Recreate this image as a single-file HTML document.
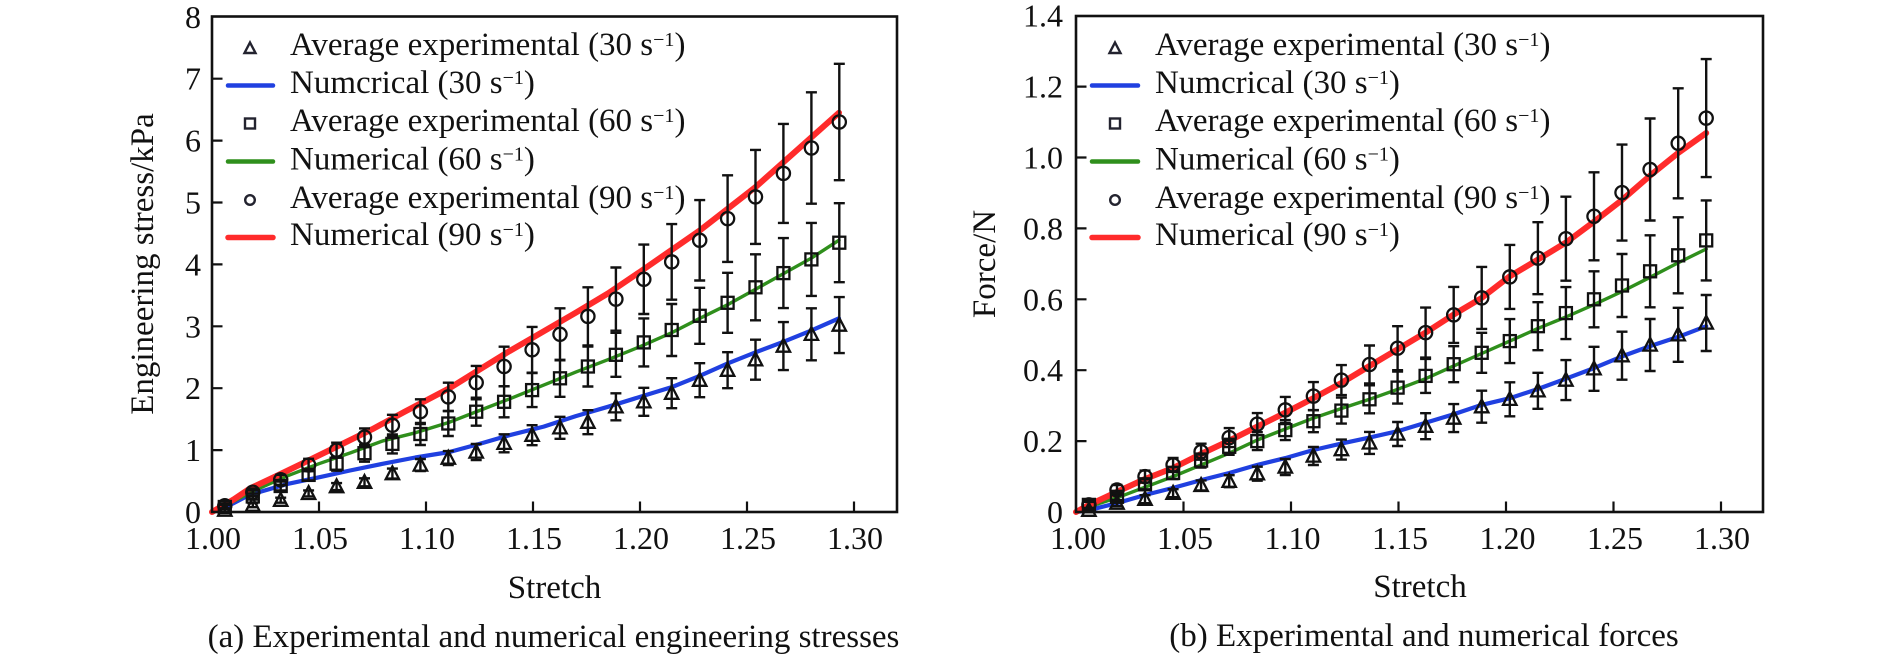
<!DOCTYPE html>
<html><head><meta charset="utf-8"><style>
html,body{margin:0;padding:0;background:#fff;}
svg{display:block;}
text{font-family:"Liberation Serif","Times New Roman",serif;fill:#111;}
</style></head><body>
<svg width="1890" height="656" viewBox="0 0 1890 656" xmlns="http://www.w3.org/2000/svg">
<defs>
<path id="tri" d="M0,-7.2 L6.7,5.6 L-6.7,5.6 Z" fill="none" stroke="#111" stroke-width="2.3"/>
<rect id="sq" x="-6" y="-6" width="12" height="12" fill="none" stroke="#111" stroke-width="2.3"/>
<circle id="ci" r="6.6" fill="none" stroke="#111" stroke-width="2.3"/>
<path id="ltri" d="M0,-6 L5.5,4.5 L-5.5,4.5 Z" fill="none" stroke="#23232f" stroke-width="2.4"/>
<rect id="lsq" x="-5" y="-5" width="10" height="10" fill="none" stroke="#23232f" stroke-width="2.4"/>
<circle id="lci" r="4.8" fill="none" stroke="#23232f" stroke-width="2.4"/>
</defs>

<!-- ================= LEFT PLOT ================= -->
<g fill="none" stroke-linejoin="round" stroke-linecap="round">
<polyline stroke="#2040e0" stroke-width="4.2" points="212,512 233.4,503.3 249.9,494.7 286.9,484.1 319.0,477.3 350.0,470.5 383.2,463.7 415.3,457.5 449.5,452.0 479.5,443.9 509.5,435.2 543.7,426.6 575.8,416.1 607.9,406.8 640.0,396.9 672.1,387.0 699.9,375.8 727.7,363.4 755.6,352.3 783.4,341.8 811.2,330.6 839.0,318.3"/>
<polyline stroke="#2f8f1c" stroke-width="3.4" points="212,512 233.4,501.5 254.8,490.3 286.9,476.1 319.0,463.7 351.1,452.6 383.2,440.8 415.3,432.8 449.5,422.2 479.5,410.5 511.6,398.1 543.7,385.1 575.8,372.1 607.9,359.7 640.0,346.7 672.1,332.5 699.9,318.3 727.7,304.6 755.6,289.2 783.4,273.7 811.2,258.2 839.0,240.2"/>
<polyline stroke="#ff2b2b" stroke-width="6" points="212,512 233.4,499.6 249.9,488.5 276.2,476.1 308.3,460.6 336.1,447.0 372.5,429.1 404.6,411.7 449.5,388.2 479.5,369.6 509.5,351.1 543.7,331.3 575.8,312.7 607.9,293.5 640.0,271.8 672.1,249.6 699.9,230.4 727.7,208.7 755.6,187.0 783.4,162.3 811.2,137.5 839.0,112.7"/>
</g>

<!-- error bars left -->
<g fill="none" stroke="#111" stroke-width="2.4">
<path d="M219.3,503.3h11m-5.5,0V508.3m-5.5,0h11 M247.3,488.5h11m-5.5,0V495.9m-5.5,0h11 M275.2,474.8h11m-5.5,0V484.8m-5.5,0h11 M303.1,458.8h11m-5.5,0V471.2m-5.5,0h11 M331.1,442.7h11m-5.5,0V457.5m-5.5,0h11 M359.0,428.4h11m-5.5,0V445.8m-5.5,0h11 M386.9,414.8h11m-5.5,0V435.8m-5.5,0h11 M414.9,399.3h11m-5.5,0V424.1m-5.5,0h11 M442.8,382.7h11m-5.5,0V411.1m-5.5,0h11 M470.7,365.9h11m-5.5,0V399.3m-5.5,0h11 M498.6,346.7h11m-5.5,0V386.3m-5.5,0h11 M526.6,326.9h11m-5.5,0V372.7m-5.5,0h11 M554.5,308.3h11m-5.5,0V360.3m-5.5,0h11 M582.4,287.3h11m-5.5,0V345.5m-5.5,0h11 M610.4,267.5h11m-5.5,0V330.7m-5.5,0h11 M638.3,244.6h11m-5.5,0V314.0m-5.5,0h11 M666.2,224.1h11m-5.5,0V299.7m-5.5,0h11 M694.2,200.1h11m-5.5,0V280.5m-5.5,0h11 M722.1,175.3h11m-5.5,0V261.9m-5.5,0h11 M750.0,149.9h11m-5.5,0V243.9m-5.5,0h11 M777.9,123.9h11m-5.5,0V222.9m-5.5,0h11 M805.9,92.3h11m-5.5,0V203.7m-5.5,0h11 M833.8,63.8h11m-5.5,0V180.2m-5.5,0h11"/>
<path d="M219.3,505.0h11m-5.5,0V509.0m-5.5,0h11 M247.3,493.5h11m-5.5,0V499.5m-5.5,0h11 M275.2,481.5h11m-5.5,0V490.5m-5.5,0h11 M303.1,469.4h11m-5.5,0V480.4m-5.5,0h11 M331.1,456.7h11m-5.5,0V470.7m-5.5,0h11 M359.0,444.7h11m-5.5,0V461.7m-5.5,0h11 M386.9,434.4h11m-5.5,0V453.4m-5.5,0h11 M414.9,423.0h11m-5.5,0V445.0m-5.5,0h11 M442.8,411.0h11m-5.5,0V436.0m-5.5,0h11 M470.7,397.7h11m-5.5,0V425.7m-5.5,0h11 M498.6,386.3h11m-5.5,0V417.3m-5.5,0h11 M526.6,373.1h11m-5.5,0V407.1m-5.5,0h11 M554.5,359.8h11m-5.5,0V396.8m-5.5,0h11 M582.4,346.5h11m-5.5,0V386.5m-5.5,0h11 M610.4,332.8h11m-5.5,0V376.8m-5.5,0h11 M638.3,318.4h11m-5.5,0V366.4m-5.5,0h11 M666.2,304.0h11m-5.5,0V356.0m-5.5,0h11 M694.2,287.8h11m-5.5,0V343.8m-5.5,0h11 M722.1,272.8h11m-5.5,0V332.8m-5.5,0h11 M750.0,254.3h11m-5.5,0V320.3m-5.5,0h11 M777.9,238.1h11m-5.5,0V308.1m-5.5,0h11 M805.9,222.9h11m-5.5,0V295.9m-5.5,0h11 M833.8,203.2h11m-5.5,0V282.2m-5.5,0h11"/>
<path d="M219.3,508.6h11m-5.5,0V511.6m-5.5,0h11 M247.3,503.2h11m-5.5,0V507.2m-5.5,0h11 M275.2,497.7h11m-5.5,0V502.7m-5.5,0h11 M303.1,490.4h11m-5.5,0V496.4m-5.5,0h11 M331.1,483.1h11m-5.5,0V490.1m-5.5,0h11 M359.0,478.3h11m-5.5,0V486.3m-5.5,0h11 M386.9,468.6h11m-5.5,0V478.6m-5.5,0h11 M414.9,459.0h11m-5.5,0V471.0m-5.5,0h11 M442.8,451.1h11m-5.5,0V465.1m-5.5,0h11 M470.7,444.0h11m-5.5,0V460.0m-5.5,0h11 M498.6,434.3h11m-5.5,0V452.3m-5.5,0h11 M526.6,425.2h11m-5.5,0V445.2m-5.5,0h11 M554.5,416.8h11m-5.5,0V438.8m-5.5,0h11 M582.4,410.2h11m-5.5,0V434.2m-5.5,0h11 M610.4,393.3h11m-5.5,0V420.3m-5.5,0h11 M638.3,387.8h11m-5.5,0V415.8m-5.5,0h11 M666.2,378.2h11m-5.5,0V408.2m-5.5,0h11 M694.2,363.2h11m-5.5,0V397.2m-5.5,0h11 M722.1,352.2h11m-5.5,0V388.2m-5.5,0h11 M750.0,339.7h11m-5.5,0V379.7m-5.5,0h11 M777.9,322.1h11m-5.5,0V370.1m-5.5,0h11 M805.9,308.3h11m-5.5,0V360.3m-5.5,0h11 M833.8,297.1h11m-5.5,0V353.1m-5.5,0h11"/>
</g>

<g>
<use href="#ci" x="224.8" y="505.8"/><use href="#ci" x="252.8" y="492.2"/><use href="#ci" x="280.7" y="479.8"/><use href="#ci" x="308.6" y="465.0"/><use href="#ci" x="336.6" y="450.1"/><use href="#ci" x="364.5" y="437.1"/><use href="#ci" x="392.4" y="425.3"/><use href="#ci" x="420.4" y="411.7"/><use href="#ci" x="448.3" y="396.9"/><use href="#ci" x="476.2" y="382.6"/><use href="#ci" x="504.1" y="366.5"/><use href="#ci" x="532.1" y="349.8"/><use href="#ci" x="560.0" y="334.3"/><use href="#ci" x="587.9" y="316.4"/><use href="#ci" x="615.9" y="299.1"/><use href="#ci" x="643.8" y="279.3"/><use href="#ci" x="671.7" y="261.9"/><use href="#ci" x="699.7" y="240.3"/><use href="#ci" x="727.6" y="218.6"/><use href="#ci" x="755.5" y="196.9"/><use href="#ci" x="783.4" y="173.4"/><use href="#ci" x="811.4" y="148.0"/><use href="#ci" x="839.3" y="122.0"/>
<use href="#sq" x="224.8" y="507.0"/><use href="#sq" x="252.8" y="496.5"/><use href="#sq" x="280.7" y="486.0"/><use href="#sq" x="308.6" y="474.9"/><use href="#sq" x="336.6" y="463.7"/><use href="#sq" x="364.5" y="453.2"/><use href="#sq" x="392.4" y="443.9"/><use href="#sq" x="420.4" y="434.0"/><use href="#sq" x="448.3" y="423.5"/><use href="#sq" x="476.2" y="411.7"/><use href="#sq" x="504.1" y="401.8"/><use href="#sq" x="532.1" y="390.1"/><use href="#sq" x="560.0" y="378.3"/><use href="#sq" x="587.9" y="366.5"/><use href="#sq" x="615.9" y="354.8"/><use href="#sq" x="643.8" y="342.4"/><use href="#sq" x="671.7" y="330.0"/><use href="#sq" x="699.7" y="315.8"/><use href="#sq" x="727.6" y="302.8"/><use href="#sq" x="755.5" y="287.3"/><use href="#sq" x="783.4" y="273.1"/><use href="#sq" x="811.4" y="259.4"/><use href="#sq" x="839.3" y="242.7"/>
<use href="#tri" x="224.8" y="510.1"/><use href="#tri" x="252.8" y="505.2"/><use href="#tri" x="280.7" y="500.2"/><use href="#tri" x="308.6" y="493.4"/><use href="#tri" x="336.6" y="486.6"/><use href="#tri" x="364.5" y="482.3"/><use href="#tri" x="392.4" y="473.6"/><use href="#tri" x="420.4" y="465.0"/><use href="#tri" x="448.3" y="458.1"/><use href="#tri" x="476.2" y="452.0"/><use href="#tri" x="504.1" y="443.3"/><use href="#tri" x="532.1" y="435.2"/><use href="#tri" x="560.0" y="427.8"/><use href="#tri" x="587.9" y="422.2"/><use href="#tri" x="615.9" y="406.8"/><use href="#tri" x="643.8" y="401.8"/><use href="#tri" x="671.7" y="393.2"/><use href="#tri" x="699.7" y="380.2"/><use href="#tri" x="727.6" y="370.2"/><use href="#tri" x="755.5" y="359.7"/><use href="#tri" x="783.4" y="346.1"/><use href="#tri" x="811.4" y="334.3"/><use href="#tri" x="839.3" y="325.1"/>
</g>

<rect x="212" y="16.5" width="685" height="495.5" fill="none" stroke="#111" stroke-width="2.6"/>
<path fill="none" stroke="#111" stroke-width="2.2" d="M212,450.1h10.5M212,388.2h10.5M212,326.3h10.5M212,264.4h10.5M212,202.5h10.5M212,140.6h10.5M212,78.7h10.5 M319,512v-10.5M426,512v-10.5M533,512v-10.5M640,512v-10.5M747,512v-10.5M854,512v-10.5"/>

<g font-size="32" text-anchor="end">
<text x="201" y="523">0</text><text x="201" y="461.1">1</text><text x="201" y="399.2">2</text><text x="201" y="337.3">3</text><text x="201" y="275.4">4</text><text x="201" y="213.5">5</text><text x="201" y="151.6">6</text><text x="201" y="89.7">7</text><text x="201" y="27.8">8</text>
</g>
<g font-size="32" text-anchor="middle">
<text x="213" y="549">1.00</text><text x="320" y="549">1.05</text><text x="427" y="549">1.10</text><text x="534" y="549">1.15</text><text x="641" y="549">1.20</text><text x="748" y="549">1.25</text><text x="855" y="549">1.30</text>
</g>
<text x="554.5" y="598" font-size="33" text-anchor="middle">Stretch</text>
<text x="553.5" y="647" font-size="33" text-anchor="middle">(a) Experimental and numerical engineering stresses</text>
<text transform="translate(153,264) rotate(-90)" font-size="33" text-anchor="middle">Engineering stress/kPa</text>

<use href="#ltri" x="250" y="48.5"/>
<line x1="228" y1="85.5" x2="273" y2="85.5" stroke="#2040e0" stroke-width="4.5" stroke-linecap="round"/>
<use href="#lsq" x="250" y="123.5"/>
<line x1="228" y1="161.5" x2="273" y2="161.5" stroke="#2f8f1c" stroke-width="4.5" stroke-linecap="round"/>
<use href="#lci" x="250" y="200"/>
<line x1="228" y1="237.5" x2="273" y2="237.5" stroke="#ff2b2b" stroke-width="5.5" stroke-linecap="round"/>
<g font-size="33">
<text x="290" y="55">Average experimental (30 s<tspan dy="-9" font-size="20">−1</tspan><tspan dy="9">)</tspan></text>
<text x="290" y="93">Numcrical (30 s<tspan dy="-9" font-size="20">−1</tspan><tspan dy="9">)</tspan></text>
<text x="290" y="131">Average experimental (60 s<tspan dy="-9" font-size="20">−1</tspan><tspan dy="9">)</tspan></text>
<text x="290" y="169.5">Numerical (60 s<tspan dy="-9" font-size="20">−1</tspan><tspan dy="9">)</tspan></text>
<text x="290" y="208">Average experimental (90 s<tspan dy="-9" font-size="20">−1</tspan><tspan dy="9">)</tspan></text>
<text x="290" y="245">Numerical (90 s<tspan dy="-9" font-size="20">−1</tspan><tspan dy="9">)</tspan></text>
</g>

<!-- ================= RIGHT PLOT ================= -->
<g fill="none" stroke-linejoin="round" stroke-linecap="round">
<polyline stroke="#2040e0" stroke-width="4.2" points="1076,512 1088.9,510.2 1117.0,503.1 1145.0,495.0 1173.1,487.9 1201.1,480.1 1229.2,473.0 1257.3,464.9 1285.3,458.1 1313.4,450.0 1341.4,443.6 1369.5,437.6 1397.6,431.2 1425.6,422.7 1453.7,414.2 1481.7,404.9 1509.8,398.2 1537.9,389.0 1565.9,378.7 1594.0,368.1 1622.0,356.4 1650.1,346.1 1678.2,336.9 1706.2,326.2"/>
<polyline stroke="#2f8f1c" stroke-width="3.4" points="1076,512 1088.9,506.7 1117.0,497.8 1145.0,487.2 1173.1,476.5 1201.1,464.9 1229.2,453.2 1257.3,440.0 1285.3,429.0 1313.4,418.1 1341.4,408.5 1369.5,399.3 1397.6,389.3 1425.6,378.7 1453.7,365.9 1481.7,353.5 1509.8,341.1 1537.9,328.4 1565.9,317.0 1594.0,304.6 1622.0,291.5 1650.1,277.3 1678.2,262.8 1706.2,249.0"/>
<polyline stroke="#ff2b2b" stroke-width="6" points="1076,512 1088.9,505.0 1117.0,491.8 1145.0,479.0 1173.1,468.0 1201.1,453.9 1229.2,440.7 1257.3,426.6 1285.3,412.7 1313.4,398.2 1341.4,383.0 1369.5,366.0 1397.6,349.3 1425.6,332.6 1453.7,314.5 1481.7,297.9 1509.8,276.3 1537.9,259.6 1565.9,242.6 1594.0,221.7 1622.0,200.0 1650.1,175.6 1678.2,152.9 1706.2,133.0"/>
</g>

<g fill="none" stroke="#111" stroke-width="2.4">
<path d="M1083.4,500.9h11m-5.5,0V508.9m-5.5,0h11 M1111.5,485.0h11m-5.5,0V495.0m-5.5,0h11 M1139.5,470.6h11m-5.5,0V482.6m-5.5,0h11 M1167.6,457.9h11m-5.5,0V471.9m-5.5,0h11 M1195.6,443.7h11m-5.5,0V459.7m-5.5,0h11 M1223.7,428.1h11m-5.5,0V447.1m-5.5,0h11 M1251.8,413.1h11m-5.5,0V435.1m-5.5,0h11 M1279.8,396.9h11m-5.5,0V422.9m-5.5,0h11 M1307.9,382.1h11m-5.5,0V410.1m-5.5,0h11 M1335.9,365.1h11m-5.5,0V395.1m-5.5,0h11 M1364.0,345.5h11m-5.5,0V383.5m-5.5,0h11 M1392.1,326.2h11m-5.5,0V370.2m-5.5,0h11 M1420.1,307.6h11m-5.5,0V357.6m-5.5,0h11 M1448.2,286.9h11m-5.5,0V342.9m-5.5,0h11 M1476.2,266.9h11m-5.5,0V328.9m-5.5,0h11 M1504.3,244.9h11m-5.5,0V308.9m-5.5,0h11 M1532.4,222.2h11m-5.5,0V294.2m-5.5,0h11 M1560.4,196.7h11m-5.5,0V280.7m-5.5,0h11 M1588.5,172.3h11m-5.5,0V260.3m-5.5,0h11 M1616.5,144.6h11m-5.5,0V240.6m-5.5,0h11 M1644.6,118.5h11m-5.5,0V220.5m-5.5,0h11 M1672.7,88.3h11m-5.5,0V198.3m-5.5,0h11 M1700.7,59.1h11m-5.5,0V177.1m-5.5,0h11"/>
<path d="M1083.4,501.9h11m-5.5,0V507.9m-5.5,0h11 M1111.5,492.8h11m-5.5,0V500.8m-5.5,0h11 M1139.5,479.3h11m-5.5,0V489.3m-5.5,0h11 M1167.6,467.0h11m-5.5,0V479.0m-5.5,0h11 M1195.6,453.6h11m-5.5,0V467.6m-5.5,0h11 M1223.7,438.8h11m-5.5,0V454.8m-5.5,0h11 M1251.8,432.1h11m-5.5,0V450.1m-5.5,0h11 M1279.8,420.1h11m-5.5,0V440.1m-5.5,0h11 M1307.9,410.2h11m-5.5,0V432.2m-5.5,0h11 M1335.9,397.6h11m-5.5,0V423.6m-5.5,0h11 M1364.0,385.3h11m-5.5,0V413.3m-5.5,0h11 M1392.1,371.6h11m-5.5,0V403.6m-5.5,0h11 M1420.1,358.9h11m-5.5,0V392.9m-5.5,0h11 M1448.2,346.2h11m-5.5,0V382.2m-5.5,0h11 M1476.2,332.8h11m-5.5,0V372.8m-5.5,0h11 M1504.3,319.1h11m-5.5,0V363.1m-5.5,0h11 M1532.4,302.2h11m-5.5,0V350.2m-5.5,0h11 M1560.4,287.1h11m-5.5,0V339.1m-5.5,0h11 M1588.5,271.3h11m-5.5,0V327.3m-5.5,0h11 M1616.5,254.0h11m-5.5,0V317.0m-5.5,0h11 M1644.6,235.3h11m-5.5,0V307.3m-5.5,0h11 M1672.7,217.3h11m-5.5,0V293.3m-5.5,0h11 M1700.7,200.4h11m-5.5,0V280.4m-5.5,0h11"/>
<path d="M1083.4,508.2h11m-5.5,0V512.2m-5.5,0h11 M1111.5,500.1h11m-5.5,0V506.1m-5.5,0h11 M1139.5,495.2h11m-5.5,0V503.2m-5.5,0h11 M1167.6,489.2h11m-5.5,0V497.2m-5.5,0h11 M1195.6,480.4h11m-5.5,0V490.4m-5.5,0h11 M1223.7,475.2h11m-5.5,0V487.2m-5.5,0h11 M1251.8,466.7h11m-5.5,0V480.7m-5.5,0h11 M1279.8,459.0h11m-5.5,0V475.0m-5.5,0h11 M1307.9,447.0h11m-5.5,0V465.0m-5.5,0h11 M1335.9,439.6h11m-5.5,0V459.6m-5.5,0h11 M1364.0,431.9h11m-5.5,0V453.9m-5.5,0h11 M1392.1,422.0h11m-5.5,0V446.0m-5.5,0h11 M1420.1,413.2h11m-5.5,0V439.2m-5.5,0h11 M1448.2,404.1h11m-5.5,0V432.1m-5.5,0h11 M1476.2,390.7h11m-5.5,0V422.7m-5.5,0h11 M1504.3,382.3h11m-5.5,0V416.3m-5.5,0h11 M1532.4,372.8h11m-5.5,0V408.8m-5.5,0h11 M1560.4,360.1h11m-5.5,0V400.1m-5.5,0h11 M1588.5,346.8h11m-5.5,0V390.8m-5.5,0h11 M1616.5,331.7h11m-5.5,0V379.7m-5.5,0h11 M1644.6,319.0h11m-5.5,0V371.0m-5.5,0h11 M1672.7,307.8h11m-5.5,0V361.8m-5.5,0h11 M1700.7,295.0h11m-5.5,0V351.0m-5.5,0h11"/>
</g>

<g>
<use href="#ci" x="1088.9" y="504.9"/><use href="#ci" x="1117.0" y="490.0"/><use href="#ci" x="1145.0" y="476.6"/><use href="#ci" x="1173.1" y="464.9"/><use href="#ci" x="1201.1" y="451.7"/><use href="#ci" x="1229.2" y="437.6"/><use href="#ci" x="1257.3" y="424.1"/><use href="#ci" x="1285.3" y="409.9"/><use href="#ci" x="1313.4" y="396.1"/><use href="#ci" x="1341.4" y="380.1"/><use href="#ci" x="1369.5" y="364.5"/><use href="#ci" x="1397.6" y="348.2"/><use href="#ci" x="1425.6" y="332.6"/><use href="#ci" x="1453.7" y="314.9"/><use href="#ci" x="1481.7" y="297.9"/><use href="#ci" x="1509.8" y="276.9"/><use href="#ci" x="1537.9" y="258.2"/><use href="#ci" x="1565.9" y="238.7"/><use href="#ci" x="1594.0" y="216.3"/><use href="#ci" x="1622.0" y="192.6"/><use href="#ci" x="1650.1" y="169.5"/><use href="#ci" x="1678.2" y="143.3"/><use href="#ci" x="1706.2" y="118.1"/>
<use href="#sq" x="1088.9" y="504.9"/><use href="#sq" x="1117.0" y="496.8"/><use href="#sq" x="1145.0" y="484.3"/><use href="#sq" x="1173.1" y="473.0"/><use href="#sq" x="1201.1" y="460.6"/><use href="#sq" x="1229.2" y="446.8"/><use href="#sq" x="1257.3" y="441.1"/><use href="#sq" x="1285.3" y="430.1"/><use href="#sq" x="1313.4" y="421.2"/><use href="#sq" x="1341.4" y="410.6"/><use href="#sq" x="1369.5" y="399.3"/><use href="#sq" x="1397.6" y="387.6"/><use href="#sq" x="1425.6" y="375.9"/><use href="#sq" x="1453.7" y="364.2"/><use href="#sq" x="1481.7" y="352.8"/><use href="#sq" x="1509.8" y="341.1"/><use href="#sq" x="1537.9" y="326.2"/><use href="#sq" x="1565.9" y="313.1"/><use href="#sq" x="1594.0" y="299.3"/><use href="#sq" x="1622.0" y="285.5"/><use href="#sq" x="1650.1" y="271.3"/><use href="#sq" x="1678.2" y="255.3"/><use href="#sq" x="1706.2" y="240.4"/>
<use href="#tri" x="1088.9" y="510.2"/><use href="#tri" x="1117.0" y="503.1"/><use href="#tri" x="1145.0" y="499.2"/><use href="#tri" x="1173.1" y="493.2"/><use href="#tri" x="1201.1" y="485.4"/><use href="#tri" x="1229.2" y="481.2"/><use href="#tri" x="1257.3" y="473.7"/><use href="#tri" x="1285.3" y="467.0"/><use href="#tri" x="1313.4" y="456.0"/><use href="#tri" x="1341.4" y="449.6"/><use href="#tri" x="1369.5" y="442.9"/><use href="#tri" x="1397.6" y="434.0"/><use href="#tri" x="1425.6" y="426.2"/><use href="#tri" x="1453.7" y="418.1"/><use href="#tri" x="1481.7" y="406.7"/><use href="#tri" x="1509.8" y="399.3"/><use href="#tri" x="1537.9" y="390.8"/><use href="#tri" x="1565.9" y="380.1"/><use href="#tri" x="1594.0" y="368.8"/><use href="#tri" x="1622.0" y="355.7"/><use href="#tri" x="1650.1" y="345.0"/><use href="#tri" x="1678.2" y="334.8"/><use href="#tri" x="1706.2" y="323.0"/>
</g>

<rect x="1076" y="16" width="687" height="496" fill="none" stroke="#111" stroke-width="2.6"/>
<path fill="none" stroke="#111" stroke-width="2.2" d="M1076,441.1h10.5M1076,370.2h10.5M1076,299.3h10.5M1076,228.4h10.5M1076,157.5h10.5M1076,86.6h10.5 M1183.5,512v-10.5M1291,512v-10.5M1398.5,512v-10.5M1506,512v-10.5M1613.5,512v-10.5M1721,512v-10.5"/>

<g font-size="32" text-anchor="end">
<text x="1063" y="523">0</text><text x="1063" y="452.1">0.2</text><text x="1063" y="381.2">0.4</text><text x="1063" y="310.3">0.6</text><text x="1063" y="239.4">0.8</text><text x="1063" y="168.5">1.0</text><text x="1063" y="97.6">1.2</text><text x="1063" y="26.7">1.4</text>
</g>
<g font-size="32" text-anchor="middle">
<text x="1078" y="549">1.00</text><text x="1185" y="549">1.05</text><text x="1292.5" y="549">1.10</text><text x="1400" y="549">1.15</text><text x="1507.5" y="549">1.20</text><text x="1615" y="549">1.25</text><text x="1722" y="549">1.30</text>
</g>
<text x="1420" y="597" font-size="33" text-anchor="middle">Stretch</text>
<text x="1424" y="646" font-size="33" text-anchor="middle">(b) Experimental and numerical forces</text>
<text transform="translate(995,264) rotate(-90)" font-size="33" text-anchor="middle">Force/N</text>

<use href="#ltri" x="1115" y="48.5"/>
<line x1="1092" y1="85.5" x2="1138" y2="85.5" stroke="#2040e0" stroke-width="4.5" stroke-linecap="round"/>
<use href="#lsq" x="1115" y="123.5"/>
<line x1="1092" y1="161.5" x2="1138" y2="161.5" stroke="#2f8f1c" stroke-width="4.5" stroke-linecap="round"/>
<use href="#lci" x="1115" y="200"/>
<line x1="1092" y1="237.5" x2="1138" y2="237.5" stroke="#ff2b2b" stroke-width="5.5" stroke-linecap="round"/>
<g font-size="33">
<text x="1155" y="55">Average experimental (30 s<tspan dy="-9" font-size="20">−1</tspan><tspan dy="9">)</tspan></text>
<text x="1155" y="93">Numcrical (30 s<tspan dy="-9" font-size="20">−1</tspan><tspan dy="9">)</tspan></text>
<text x="1155" y="131">Average experimental (60 s<tspan dy="-9" font-size="20">−1</tspan><tspan dy="9">)</tspan></text>
<text x="1155" y="169.5">Numerical (60 s<tspan dy="-9" font-size="20">−1</tspan><tspan dy="9">)</tspan></text>
<text x="1155" y="208">Average experimental (90 s<tspan dy="-9" font-size="20">−1</tspan><tspan dy="9">)</tspan></text>
<text x="1155" y="245">Numerical (90 s<tspan dy="-9" font-size="20">−1</tspan><tspan dy="9">)</tspan></text>
</g>
</svg>
</body></html>
